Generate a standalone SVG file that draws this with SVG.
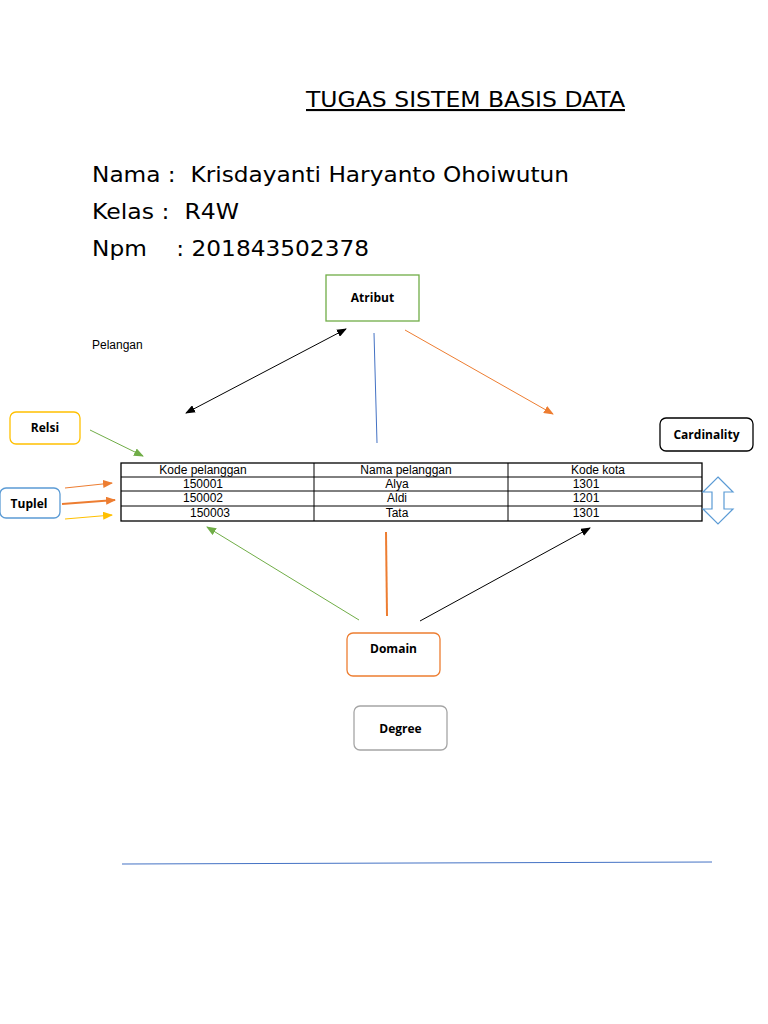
<svg xmlns="http://www.w3.org/2000/svg" width="768" height="1024" viewBox="0 0 768 1024">
<style>
.h{font-family:"DejaVu Sans",sans-serif;font-size:21px;fill:#000;white-space:pre}
.b{font-family:"Liberation Sans Narrow","Open Sans","DejaVu Sans",sans-serif;font-size:12px;font-weight:bold;fill:#000}
.t{font-family:"Liberation Sans",Arial,sans-serif;font-size:12px;fill:#000}
.box{fill:#fff;stroke-width:1.3}
</style>
<defs>
<marker id="ak" markerWidth="10" markerHeight="8" refX="9" refY="4" orient="auto-start-reverse" markerUnits="userSpaceOnUse"><path d="M0,0L10,4L0,8z" fill="#000"/></marker>
<marker id="ao" markerWidth="10" markerHeight="8" refX="9" refY="4" orient="auto" markerUnits="userSpaceOnUse"><path d="M0,0L10,4L0,8z" fill="#ed7d31"/></marker>
<marker id="ag" markerWidth="10" markerHeight="8" refX="9" refY="4" orient="auto" markerUnits="userSpaceOnUse"><path d="M0,0L10,4L0,8z" fill="#70ad47"/></marker>
<marker id="ay" markerWidth="10" markerHeight="8" refX="9" refY="4" orient="auto" markerUnits="userSpaceOnUse"><path d="M0,0L10,4L0,8z" fill="#ffc000"/></marker>
</defs>
<text x="306" y="107" class="h" text-decoration="underline" textLength="319" lengthAdjust="spacingAndGlyphs">TUGAS SISTEM BASIS DATA</text>
<text x="92" y="182" class="h" xml:space="preserve" textLength="477" lengthAdjust="spacingAndGlyphs">Nama :  Krisdayanti Haryanto Ohoiwutun</text>
<text x="92" y="219" class="h" xml:space="preserve" textLength="147" lengthAdjust="spacingAndGlyphs">Kelas :  R4W</text>
<text x="92" y="256" class="h" xml:space="preserve" textLength="277" lengthAdjust="spacingAndGlyphs">Npm    : 201843502378</text>
<text x="92" y="349" class="t">Pelangan</text>
<g id="atribut"><rect x="326" y="275" width="93" height="46" class="box" stroke="#70ad47"/><text x="372.5" y="302" class="b" text-anchor="middle">Atribut</text></g>
<g id="relsi"><rect x="10" y="412" width="70" height="32" rx="6" class="box" stroke="#ffc000"/><text x="45" y="432" class="b" text-anchor="middle">Relsi</text></g>
<g id="cardinality"><rect x="660" y="418" width="93" height="33" rx="6" class="box" stroke="#000"/><text x="706.5" y="439" class="b" text-anchor="middle">Cardinality</text></g>
<g id="tuplel"><rect x="0" y="488" width="60" height="30" rx="6" class="box" stroke="#5b9bd5"/><text x="29" y="508" class="b" text-anchor="middle">Tuplel</text></g>
<g id="domain"><rect x="347" y="633" width="93" height="43" rx="6" class="box" stroke="#ed7d31"/><text x="393.5" y="653" class="b" text-anchor="middle">Domain</text></g>
<g id="degree"><rect x="354" y="706" width="93" height="44" rx="6" class="box" stroke="#a5a5a5"/><text x="400.5" y="733" class="b" text-anchor="middle">Degree</text></g>
<g id="table">
<rect x="121" y="463" width="581" height="58" fill="#fff" stroke="#000" stroke-width="1.3"/>
<path d="M121 477H702M121 491H702M121 506H702M314 463V521M508 463V521" stroke="#000" stroke-width="1"/>
<g class="t" text-anchor="middle">
<text x="203" y="474">Kode pelanggan</text><text x="406" y="474">Nama pelanggan</text><text x="598" y="474">Kode kota</text>
<text x="203" y="488">150001</text><text x="397" y="488">Alya</text><text x="586" y="488">1301</text>
<text x="203" y="502">150002</text><text x="397" y="502">Aldi</text><text x="586" y="502">1201</text>
<text x="210" y="517">150003</text><text x="397" y="517">Tata</text><text x="586" y="517">1301</text>
</g>
</g>
<g id="cardarrow"><path d="M718 477L733 492H724V509H733L718 524L703 509H712V492H703Z" fill="#fff" stroke="#5b9bd5" stroke-width="1.2"/></g>
<g id="connectors" fill="none">
<line x1="346" y1="329" x2="186" y2="413" stroke="#000" marker-start="url(#ak)" marker-end="url(#ak)"/>
<line x1="374" y1="333" x2="377" y2="443" stroke="#4472c4"/>
<line x1="405" y1="330" x2="553" y2="414" stroke="#ed7d31" marker-end="url(#ao)"/>
<line x1="90" y1="430" x2="143" y2="456" stroke="#70ad47" marker-end="url(#ag)"/>
<line x1="65" y1="488" x2="112" y2="483" stroke="#ed7d31" marker-end="url(#ao)"/>
<line x1="62" y1="504" x2="115" y2="500" stroke="#ed7d31" stroke-width="2" marker-end="url(#ao)"/>
<line x1="65" y1="519" x2="112" y2="515" stroke="#ffc000" marker-end="url(#ay)"/>
<line x1="359" y1="620" x2="207" y2="527" stroke="#70ad47" marker-end="url(#ag)"/>
<line x1="387" y1="616" x2="386" y2="532" stroke="#ed7d31" stroke-width="2"/>
<line x1="420" y1="621" x2="590" y2="528" stroke="#000" marker-end="url(#ak)"/>
<line x1="122" y1="864" x2="712" y2="862" stroke="#4472c4"/>
</g>
</svg>
